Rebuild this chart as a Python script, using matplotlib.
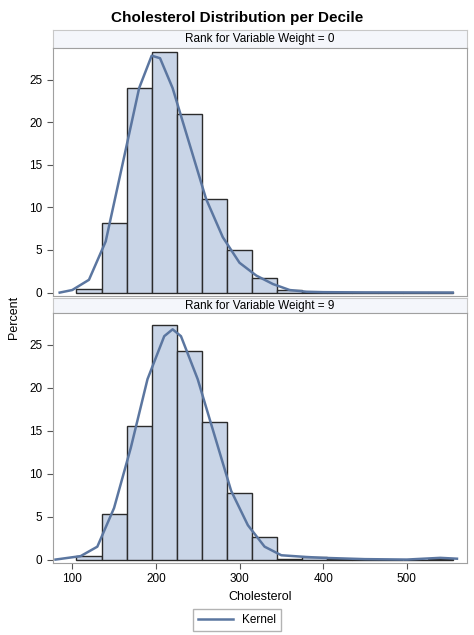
import matplotlib.pyplot as plt
import numpy as np

plt.rcParams['font.family'] = ['Liberation Sans', 'DejaVu Sans']

bin_edges = np.arange(105, 556, 30)
pct_w0 = [0.4, 8.2, 24.0, 28.2, 21.0, 11.0, 5.0, 1.7, 0.3, 0.1, 0.05, 0.05, 0.05, 0.05, 0.05]
pct_w9 = [0.4, 5.3, 15.6, 27.3, 24.3, 16.0, 7.7, 2.6, 0.1, 0.3, 0.1, 0.1, 0.0, 0.0, 0.1]

kx_w0 = [85, 100, 120, 140, 160, 180, 195, 205, 220, 240, 260, 280, 300, 320, 340, 360, 380, 400, 450, 555]
ky_w0 = [0, 0.3, 1.5, 6, 15, 24, 27.8, 27.5, 24, 17.5, 11, 6.5, 3.5, 2, 1, 0.3, 0.1, 0.05, 0.02, 0]
kx_w9 = [80, 110, 130, 150, 170, 190, 210, 220, 230, 250, 270, 290, 310, 330, 350, 380, 400, 450, 500, 540, 560]
ky_w9 = [0, 0.4, 1.5, 6, 13, 21, 26, 26.8, 26, 21, 14.5, 8, 4, 1.5, 0.5, 0.3, 0.2, 0.05, 0, 0.2, 0.1]

panels = [('Rank for Variable Weight = 0', pct_w0, kx_w0, ky_w0),
          ('Rank for Variable Weight = 9', pct_w9, kx_w9, ky_w9)]

fig = plt.figure(figsize=(4.74, 6.35), dpi=100)
fig.text(0.5, 0.972, 'Cholesterol Distribution per Decile', ha='center', va='center',
         fontsize=11, fontweight='bold')

W, H = 474, 635
left, right = 53 / W, 467 / W
boxes = [(30, 48, 296), (298, 313, 563)]  # header top, plot top, plot bottom (px)
line_col = '#5b76a0'
axes = []
for (title, pct, kx, ky), (ht, pt, pb) in zip(panels, boxes):
    # header strip
    hax = fig.add_axes([left, 1 - pt / H, right - left, (pt - ht) / H])
    hax.set_facecolor('#f4f6fb')
    hax.set_xticks([]); hax.set_yticks([])
    for s in hax.spines.values():
        s.set_color('#c8c8c8')
    hax.text(0.5, 0.5, title, ha='center', va='center', fontsize=8.5, transform=hax.transAxes)

    ax = fig.add_axes([left, 1 - pb / H, right - left, (pb - pt) / H])
    ax.bar(bin_edges[:-1], pct, width=30, align='edge', color='#c9d5e7',
           edgecolor='#2b2b2b', linewidth=1.0)
    ax.plot(kx, ky, color=line_col, linewidth=1.8)
    ax.set_xlim(77, 572)
    ax.set_ylim(-0.4, 28.7)
    ax.set_yticks([0, 5, 10, 15, 20, 25])
    ax.set_xticks([100, 200, 300, 400, 500])
    ax.tick_params(labelsize=8.5, color='#555555', length=4)
    for s in ax.spines.values():
        s.set_color('#a0a0a0')
    axes.append(ax)

axes[0].tick_params(labelbottom=False, bottom=False)
axes[1].set_xlabel('Cholesterol', fontsize=9)
fig.text(14 / W, 0.5, 'Percent', rotation=90, ha='center', va='center', fontsize=9)

handle, = axes[1].plot([], [], color=line_col, linewidth=1.8, label='Kernel')
fig.legend(handles=[handle], loc='center', bbox_to_anchor=(0.5, 1 - 620 / H),
           fontsize=8.5, frameon=True, fancybox=False, edgecolor='#a0a0a0',
           handlelength=3)

fig.savefig('out.png', dpi=100)
